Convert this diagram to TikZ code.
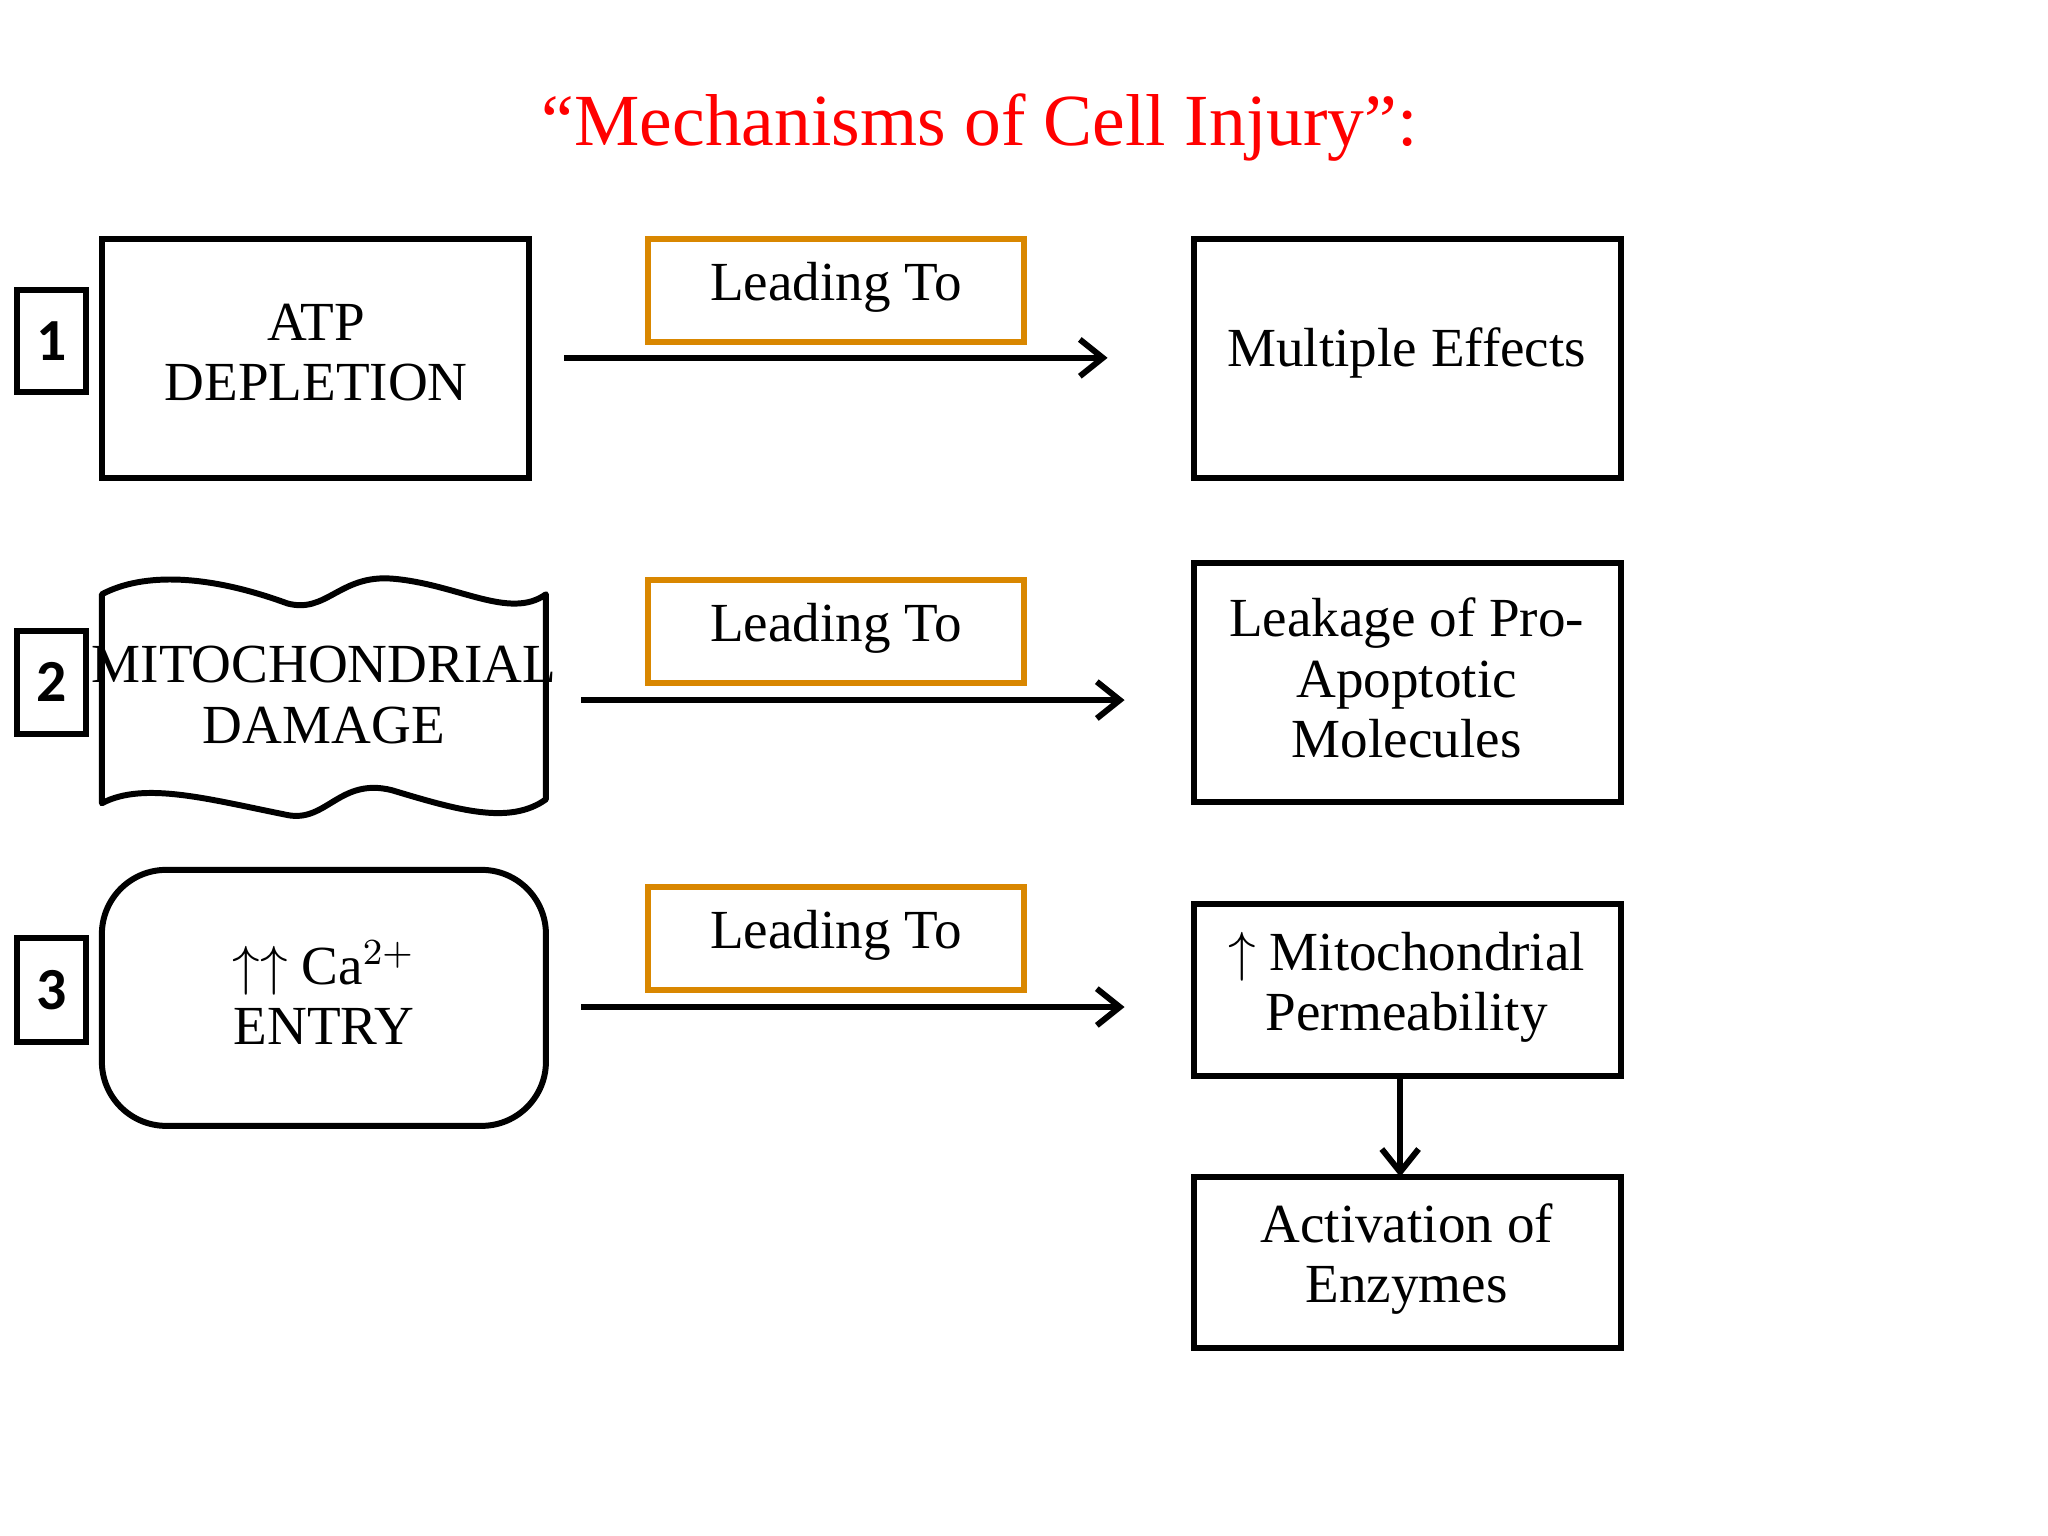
\documentclass[tikz,border=0pt]{standalone}
\usepackage{fontspec}
\setmainfont{Liberation Serif}
\newfontfamily\numfont{Carlito}
\usetikzlibrary{arrows.meta}
\begin{document}
\begin{tikzpicture}[x=0.01cm,y=-0.01cm,
  txt/.style={align=center,font=\fontsize{12}{13.2}\selectfont},
  lead/.style={draw=orange!75!yellow!85!black,line width=1.3pt},
  frame/.style={line width=1.3pt},
  numt/.style={font=\numfont\bfseries\fontsize{13}{15}\selectfont},
  arr/.style={line width=1.3pt,-{Straight Barb[length=5pt,width=8pt]}}]
\useasboundingbox (0,0) rectangle (1568,1176);
\node[text=red,font=\fontsize{16}{19}\selectfont] (title) at (750,98) {“Mechanisms of Cell Injury”:};
% row 1
\draw[frame] (13,222) rectangle (66,300);
\node[numt] (n1) at (39.5,261) {1};
\draw[frame] (78,183) rectangle (405,366);
\node[txt] (b1) at (242,270) {ATP\\DEPLETION};
\draw[lead] (496,183) rectangle (784,262);
\node[txt] (l1) at (640,220) {Leading To};
\draw[frame] (914,183) rectangle (1241,366);
\node[txt] (e1) at (1077,270) {Multiple Effects};
\coordinate (a1s) at (432,274); \coordinate (a1e) at (848,274);
\draw[arr] (a1s) -- (a1e);
% row 2
\draw[frame] (13,483) rectangle (66,562);
\node[numt] (n2) at (39.5,522) {2};
\draw[frame,line join=round] (78,455) .. controls (110,438) and (160,440) .. (220,462)
  .. controls (250,470) and (260,440) .. (300,443) .. controls (350,447) and (390,475) .. (418,455)
  -- (418,612) .. controls (390,632) and (350,620) .. (300,605) .. controls (260,595) and (250,630) .. (220,624)
  .. controls (160,612) and (110,598) .. (78,615) -- cycle;
\node[txt] (b2) at (248,532) {MITOCHONDRIAL\\DAMAGE};
\draw[lead] (496,444) rectangle (784,523);
\node[txt] (l2) at (640,481) {Leading To};
\draw[frame] (914,431) rectangle (1241,614);
\node[txt] (e2) at (1077,519) {Leakage of Pro-\\Apoptotic\\Molecules};
\coordinate (a2s) at (445,536); \coordinate (a2e) at (861,536);
\draw[arr] (a2s) -- (a2e);
% row 3
\draw[frame] (13,718) rectangle (66,798);
\node[numt] (n3) at (39.5,758) {3};
\draw[frame,rounded corners=14pt] (78,666) rectangle (418,862);
\node[txt] (b3) at (248,760) {$\uparrow\uparrow$ Ca$^{2+}$\\ENTRY};
\draw[lead] (496,679) rectangle (784,758);
\node[txt] (l3) at (640,716) {Leading To};
\draw[frame] (914,692) rectangle (1241,824);
\node[txt] (e3) at (1077,756) {$\uparrow$ Mitochondrial\\Permeability};
\draw[frame] (914,901) rectangle (1241,1032);
\node[txt] (e4) at (1077,964) {Activation of\\Enzymes};
\coordinate (a3s) at (445,771); \coordinate (a3e) at (861,771);
\draw[arr] (a3s) -- (a3e);
\coordinate (a4s) at (1072,824); \coordinate (a4e) at (1072,901);
\draw[arr] (a4s) -- (a4e);
\end{tikzpicture}
\end{document}
